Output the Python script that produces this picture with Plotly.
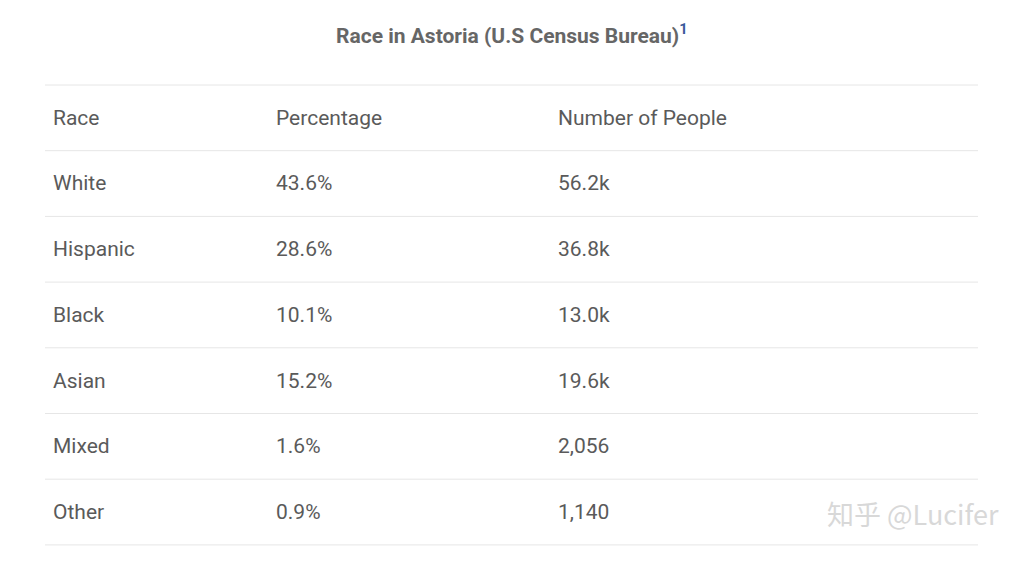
import plotly.graph_objects as go

headers = ["Race", "Percentage", "Number of People"]
races = ["White", "Hispanic", "Black", "Asian", "Mixed", "Other"]
percentages = ["43.6%", "28.6%", "10.1%", "15.2%", "1.6%", "0.9%"]
people = ["56.2k", "36.8k", "13.0k", "19.6k", "2,056", "1,140"]

W, H = 1024, 568
off = 8  # page margin of the rendered html
top, row_h = 85 - off, 65.7
x0, x1 = 45 - off, 978 - off
text_shift = 16  # table text sits at the top of a cell, push it to the middle

fig = go.Figure(go.Table(
    domain=dict(x=[x0 / W, x1 / W], y=[0, 1 - (top + text_shift) / H]),
    columnwidth=[223, 282, 428],
    header=dict(values=headers, height=row_h, align="left",
                fill_color="rgba(0,0,0,0)", line_color="rgba(0,0,0,0)",
                font=dict(family="Roboto", size=21, color="#5a5a5a")),
    cells=dict(values=[races, percentages, people], height=row_h, align="left",
               fill_color="rgba(0,0,0,0)", line_color="rgba(0,0,0,0)",
               font=dict(family="Roboto", size=21, color="#5a5a5a")),
))

# horizontal separators
for i in range(len(races) + 2):
    y = 1 - (top + i * row_h) / H
    fig.add_shape(type="line", xref="paper", yref="paper",
                  x0=x0 / W, x1=x1 / W, y0=y, y1=y,
                  line=dict(color="#e6e6e6", width=1))

fig.add_annotation(
    text="<b>Race in Astoria (U.S Census Bureau)</b><sup><span style='color:#3a5a9a'><b>1</b></span></sup>",
    xref="paper", yref="paper", x=(512 - off) / W, y=1 - 10 / H, showarrow=False,
    font=dict(family="Roboto", size=21, color="#666666"))

fig.add_annotation(
    text="知乎 @Lucifer", xref="paper", yref="paper", x=(1001 - off) / W, y=1 - 527 / H,
    xanchor="right", showarrow=False,
    font=dict(family="Noto Sans CJK SC", size=27, color="#d8d8d8"))

fig.update_layout(width=W, height=H, margin=dict(l=0, r=0, t=0, b=0),
                  paper_bgcolor="white", plot_bgcolor="white")

fig.write_html("out.html")
